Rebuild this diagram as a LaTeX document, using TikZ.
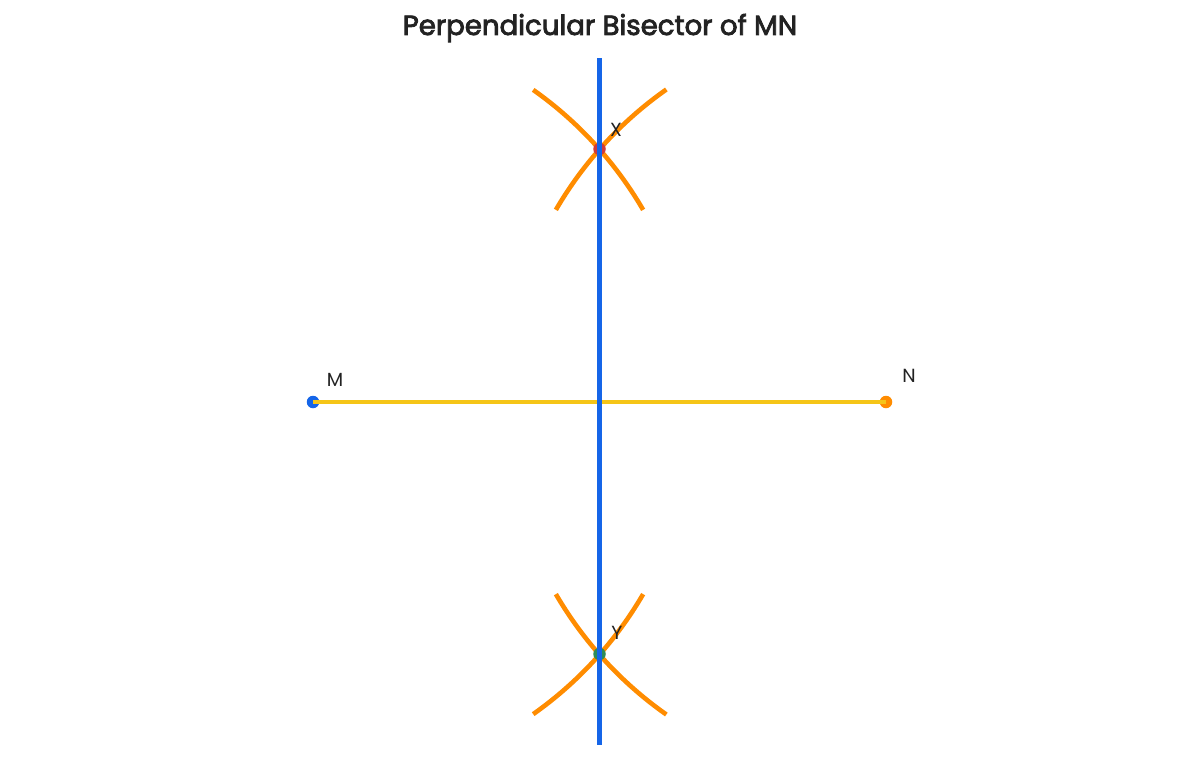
\documentclass[tikz,border=0pt]{standalone}
\usepackage{fontspec}
\setmainfont{Poppins}
\newfontfamily\titlefont[FakeBold=3]{Poppins}
\definecolor{segY}{HTML}{F5C518}
\definecolor{bisB}{HTML}{1565E8}
\definecolor{arcO}{HTML}{FF8C00}
\definecolor{ptR}{HTML}{D03A3A}
\definecolor{ptG}{HTML}{2E8B57}
\definecolor{txt}{HTML}{222222}
\tikzset{
  arcline/.style={draw=arcO, line width=4.6pt},
  segline/.style={draw=segY, line width=4.5pt},
  bisline/.style={draw=bisB, line width=5pt},
  ptlabel/.style={text=txt, font=\fontsize{19}{22}\selectfont},
  dotpt/.style={circle, inner sep=0pt, minimum size=12.5pt}
}
\begin{document}
\begin{tikzpicture}[x=1pt,y=-1pt]
\useasboundingbox (0,0) rectangle (1200,763);
\node[text=txt, font=\fontsize{27.6}{31}\titlefont] (title) at (600,28) {Perpendicular Bisector of MN};
\coordinate (M) at (313,402);
\coordinate (N) at (886,402);
\coordinate (X) at (599.5,149);
\coordinate (Y) at (599.5,654);
\coordinate (T) at (599.5,58);
\coordinate (B) at (599.5,745);
\draw[arcline] (M) ++(-30.2:382) arc[start angle=-30.2, end angle=-54.8, radius=382];
\draw[arcline] (N) ++(-125.1:382) arc[start angle=-125.1, end angle=-149.8, radius=382];
\draw[arcline] (N) ++(-210.2:382) arc[start angle=-210.2, end angle=-234.9, radius=382];
\draw[arcline] (M) ++(30.2:382) arc[start angle=30.2, end angle=54.8, radius=382];
\node[dotpt, fill=bisB] (Mdot) at (M) {};
\node[dotpt, fill=arcO] (Ndot) at (N) {};
\draw[segline] (Mdot.center) -- (Ndot.center);
\node[dotpt, fill=ptR] (Xdot) at (X) {};
\node[dotpt, fill=ptG] (Ydot) at (Y) {};
\draw[bisline] (T) -- (B);
\node[ptlabel] (Ml) at (335,380) {M};
\node[ptlabel] (Nl) at (909,376) {N};
\node[ptlabel] (Xl) at (616,130) {X};
\node[ptlabel] (Yl) at (617,633) {Y};
\end{tikzpicture}
\end{document}
